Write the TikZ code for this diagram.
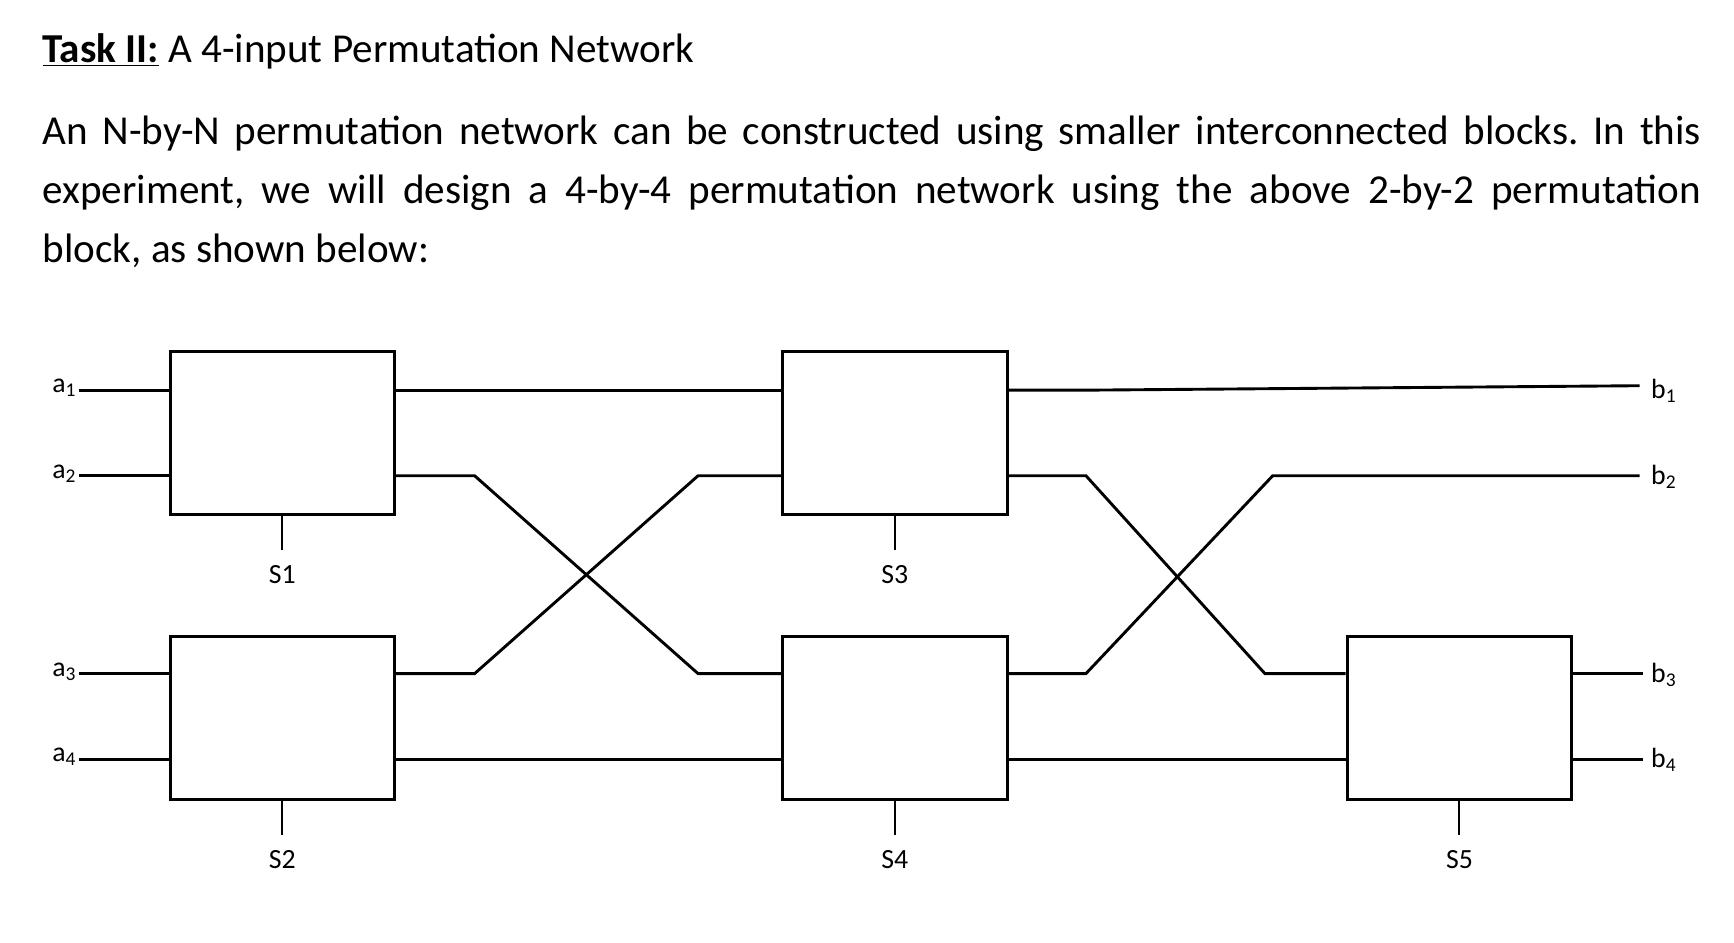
\documentclass[tikz,border=0pt]{standalone}
\usepackage{fontspec}
\setmainfont{Carlito}
\begin{document}
\frenchspacing
\begin{tikzpicture}[x=0.5pt,y=-0.5pt,
  blk/.style={draw,line width=1.4pt,minimum width=101pt,minimum height=73.5pt,inner sep=0pt},
  wire/.style={line width=1.3pt},
  ctl/.style={line width=0.9pt},
  lab/.style={font=\fontsize{12.5}{15}\selectfont,inner sep=1pt}]
\useasboundingbox (0,0) rectangle (1560,848);
\node[anchor=base west,inner sep=0pt,font=\fontsize{18.5}{22}\selectfont] (title) at (38,56) {\underline{\textbf{Task II:}} A 4-input Permutation Network};
\node[anchor=north west,inner sep=0pt,text width=746pt,align=justify,font=\fontsize{18.5}{26.5}\selectfont] (para) at (38,104) {An N-by-N permutation network can be constructed using smaller interconnected blocks. In this experiment, we will design a 4-by-4 permutation network using the above 2-by-2 permutation\linebreak block, as shown below:};
% blocks
\node[blk] (s1) at (254,389.5) {};
\node[blk] (s2) at (254,646) {};
\node[blk] (s3) at (805,389.5) {};
\node[blk] (s4) at (805,646) {};
\node[blk] (s5) at (1313,646) {};
% input labels
\node[lab] (a1) at (58,349) {a\textsubscript{1}};
\node[lab] (a2) at (58,426) {a\textsubscript{2}};
\node[lab] (a3) at (58,604) {a\textsubscript{3}};
\node[lab] (a4) at (58,681) {a\textsubscript{4}};
\node[lab] (b1) at (1497,352) {b\textsubscript{1}};
\node[lab] (b2) at (1497,429) {b\textsubscript{2}};
\node[lab] (b3) at (1497,607) {b\textsubscript{3}};
\node[lab] (b4) at (1497,684) {b\textsubscript{4}};
% inputs
\draw[wire] (a1.east |- 0,351) -- (s1.west |- 0,351);
\draw[wire] (a2.east |- 0,428) -- (s1.west |- 0,428);
\draw[wire] (a3.east |- 0,606) -- (s2.west |- 0,606);
\draw[wire] (a4.east |- 0,683) -- (s2.west |- 0,683);
% stage 1 -> 2
\draw[wire] (s1.east |- 0,351) -- (s3.west |- 0,351);
\draw[wire] (s1.east |- 0,428) -- (427,428) -- (628,606) -- (s4.west |- 0,606);
\draw[wire] (s2.east |- 0,606) -- (427,606) -- (628,428) -- (s3.west |- 0,428);
\draw[wire] (s2.east |- 0,683) -- (s4.west |- 0,683);
% stage 2 -> 3
\draw[wire] (s3.east |- 0,351) -- (977,351) -- (1475,347);
\draw[wire] (s3.east |- 0,428) -- (977,428) -- (1138,606) -- (s5.west |- 0,606);
\draw[wire] (s4.east |- 0,606) -- (977,606) -- (1145,428) -- (1475,428);
\draw[wire] (s4.east |- 0,683) -- (s5.west |- 0,683);
\draw[wire] (s5.east |- 0,606) -- (1478,606);
\draw[wire] (s5.east |- 0,683) -- (1478,683);
% control
\foreach \s/\n in {s1/S1,s2/S2,s3/S3,s4/S4,s5/S5}{
  \node[lab,anchor=north] (l\s) at ([yshift=-21pt]\s.south) {\n};
  \draw[ctl] (\s.south) -- ++(0,30);
}
\end{tikzpicture}
\end{document}
